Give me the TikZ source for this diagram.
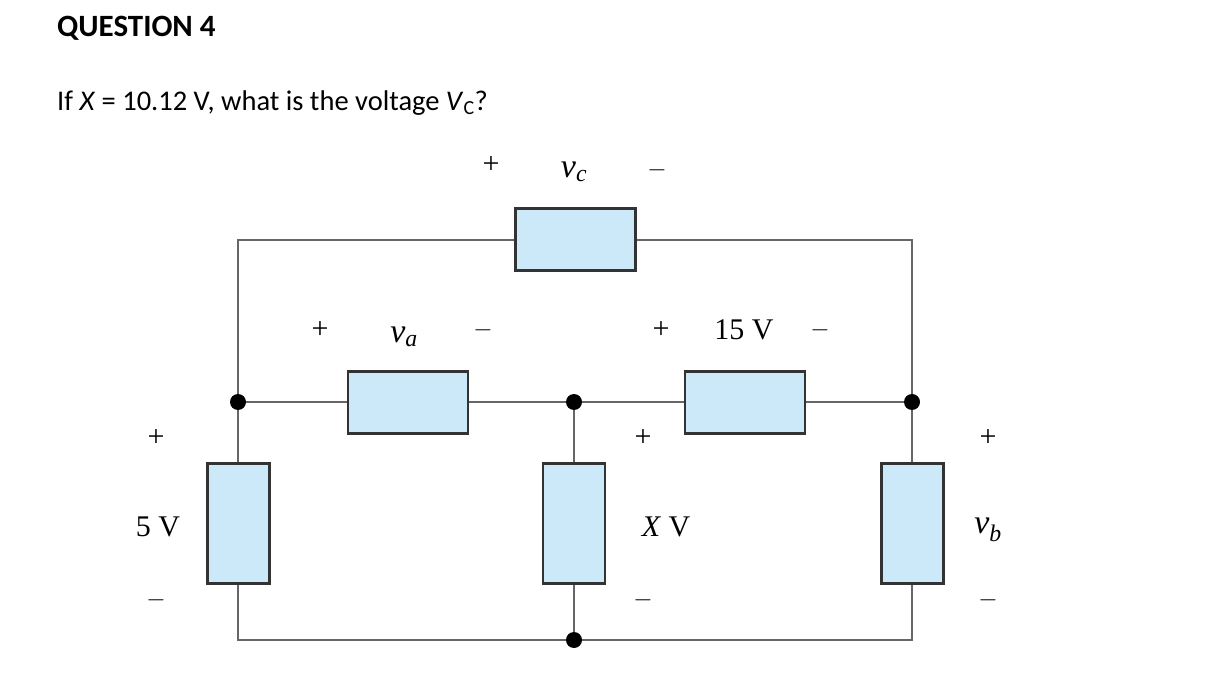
\documentclass[tikz,border=0pt]{standalone}
\usepackage{fontspec}
\setmainfont{Liberation Serif}
\newfontfamily\carl{Carlito}
\begin{document}
\begin{tikzpicture}[x=1pt,y=-1pt,
  wire/.style={draw=black!60,line width=1.6pt},
  box/.style={draw=black!80,fill={rgb,255:red,204;green,233;blue,250},line width=2.6pt},
  dot/.style={circle,fill=black,inner sep=0pt,minimum size=16pt},
  lab/.style={font=\fontsize{30}{30}\selectfont,inner sep=0pt},
  vlab/.style={font=\fontsize{34}{34}\selectfont\itshape,inner sep=0pt}]
\useasboundingbox (0,0) rectangle (1216,692);
\node[anchor=west,font=\carl\bfseries\fontsize{31}{31}\selectfont,inner sep=0pt] (q) at (57,28) {QUESTION 4};
\node[anchor=west,font=\carl\fontsize{28.5}{28.5}\selectfont,inner sep=0pt] (t) at (57,103) {If \textit{X} = 10.12 V, what is the voltage \textit{V}\textsubscript{C}?};
\coordinate (tl) at (238,240); \coordinate (tr) at (912,240);
\coordinate (bl) at (238,640); \coordinate (br) at (912,640);
\coordinate (cl) at (238,402); \coordinate (cm) at (574,402);
\coordinate (cr) at (912,402); \coordinate (cb) at (574,640);
\draw[wire] (cl) -- (tl) -- (tr) -- (cr);
\draw[wire] (cl) -- (cr);
\draw[wire] (cl) -- (bl) -- (br) -- (cr);
\draw[wire] (cm) -- (cb);
\node[dot] (nl) at (cl) {};
\node[dot] (nm) at (cm) {};
\node[dot] (nr) at (cr) {};
\node[dot] (nb) at (cb) {};
\node[box,minimum width=120pt,minimum height=62pt] (rc) at (575.5,239.5) {};
\node[box,minimum width=120pt,minimum height=62pt] (ra) at (408,402.5) {};
\node[box,minimum width=120pt,minimum height=62pt] (r15) at (745,402.5) {};
\node[box,minimum width=62pt,minimum height=120pt] (r5) at (238.5,523.5) {};
\node[box,minimum width=62pt,minimum height=120pt] (rx) at (574,523.5) {};
\node[box,minimum width=62pt,minimum height=120pt] (rb) at (912.5,523.5) {};
\node[lab] (p1) at (491,165) {+};
\node[vlab] (l1) at (574,172) {v\textsubscript{c}};
\node[lab] (m1) at (657,170) {$-$};
\node[lab] (p2) at (320,330) {+};
\node[vlab] (l2) at (404,337) {v\textsubscript{a}};
\node[lab] (m2) at (483,330) {$-$};
\node[lab] (p3) at (661,330) {+};
\node[lab] (l3) at (744,330) {15 V};
\node[lab] (m3) at (820,330) {$-$};
\node[lab] (p4) at (156,438) {+};
\node[lab] (l4) at (158,527) {5 V};
\node[lab] (m4) at (156,600) {$-$};
\node[lab] (p5) at (643,438) {+};
\node[lab] (l5) at (666,527) {\textit{X} V};
\node[lab] (m5) at (643,600) {$-$};
\node[lab] (p6) at (988,438) {+};
\node[vlab] (l6) at (988,530) {v\textsubscript{b}};
\node[lab] (m6) at (988,600) {$-$};
\end{tikzpicture}
\end{document}
